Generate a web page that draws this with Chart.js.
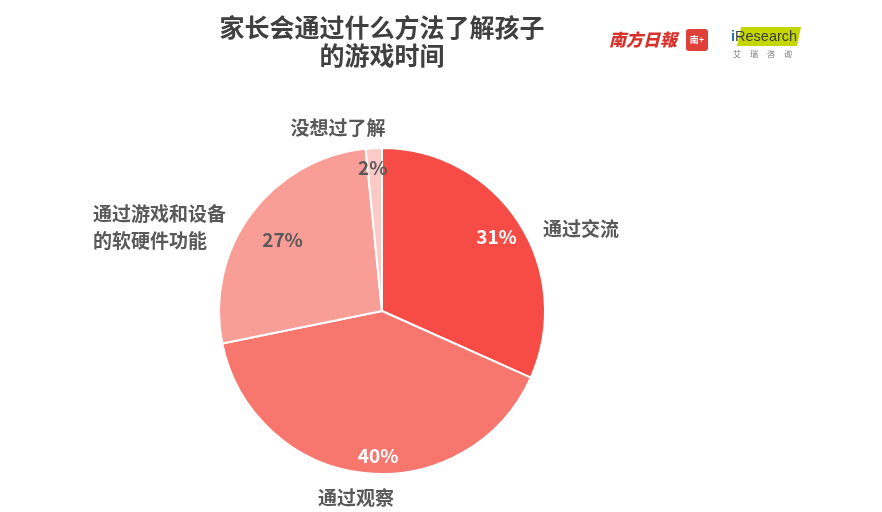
<!DOCTYPE html>
<html>
<head>
<meta charset="utf-8">
<script src="https://cdn.jsdelivr.net/npm/chart.js@4.4.0/dist/chart.umd.min.js"></script>
<style>
  html, body { margin:0; padding:0; background:#fff; }
  body { width:882px; height:512px; position:relative; overflow:hidden; font-family:"Noto Sans CJK SC","Noto Sans",sans-serif; }
  #wrap { position:absolute; left:0; top:0; width:882px; height:512px; }
  #title { position:absolute; left:182px; top:12px; width:400px; text-align:center; font-size:25px; font-weight:bold; color:#404040; line-height:28px; }
  .nfrb { position:absolute; left:609px; top:26px; font-family:"Noto Sans CJK SC",serif; font-weight:900; font-style:italic; color:#d8302a; font-size:17px; letter-spacing:0px; }
  .nfbox { position:absolute; left:686px; top:29px; width:22px; height:22px; background:#e0403a; border-radius:3px; color:#fff; font-size:9px; font-weight:bold; text-align:center; line-height:22px; }
  .ir { position:absolute; left:731px; top:26px; width:68px; height:21px; }
  .ir .bg { position:absolute; left:8px; top:1px; width:60px; height:19px; background:#c3d600; transform:skewX(-12deg); }
  .ir .tx { position:absolute; left:0; top:0; font-family:"Liberation Sans",Arial,sans-serif; font-size:14.5px; color:#3d3d3d; line-height:21px; }
  .ir .tx b { color:#2a6fb5; font-weight:bold; }
  .irc { position:absolute; left:733px; top:48px; font-size:8px; color:#777; letter-spacing:9px; }
</style>
</head>
<body>
<div id="wrap"><canvas id="pie" width="882" height="512"></canvas></div>
<div id="title">家长会通过什么方法了解孩子<br>的游戏时间</div>
<div class="nfrb">南方日報</div>
<div class="nfbox">南+</div>
<div class="ir"><div class="bg"></div><div class="tx"><b>i</b>Research</div></div>
<div class="irc">艾瑞咨询</div>
<script>
const categories = ['通过交流', '通过观察', '通过游戏和设备的软硬件功能', '没想过了解'];
const values = [31.7, 40.1, 26.6, 1.6];
const pctLabels = ['31%', '40%', '27%', '2%'];
const sliceColors = ['#f64c45', '#f7766d', '#f99d97', '#fbcac6'];

// label look / placement
const pctColors = ['#ffffff', '#ffffff', '#595959', '#595959'];
const pctRadius = [0.83, 0.885, 0.75, 0.87];
const pctNudge = [[1, -1], [12, 1], [-1, 1], [-2, -2]];
// outside category labels: offset from pie centre, alignment, lines
const outLabels = [
  { lines: ['通过交流'], dx: 161, dy: -82, align: 'left' },
  { lines: ['通过观察'], dx: -26, dy: 187, align: 'center' },
  { lines: ['通过游戏和设备', '的软硬件功能'], dx: -289, dy: -97, align: 'left' },
  { lines: ['没想过了解'], dx: -44, dy: -183, align: 'center' }
];

const labelPlugin = {
  id: 'pieLabels',
  afterDatasetsDraw(chart) {
    const ctx = chart.ctx;
    const arcs = chart.getDatasetMeta(0).data;
    ctx.save();
    ctx.textBaseline = 'middle';
    arcs.forEach((arc, i) => {
      const p = arc.getProps(['x', 'y', 'startAngle', 'endAngle', 'outerRadius'], true);
      const mid = (p.startAngle + p.endAngle) / 2;
      const r = p.outerRadius * pctRadius[i];
      ctx.font = 'bold 19px "Noto Sans CJK SC", "Noto Sans", sans-serif';
      ctx.fillStyle = pctColors[i];
      ctx.textAlign = 'center';
      ctx.fillText(pctLabels[i], p.x + Math.cos(mid) * r + pctNudge[i][0], p.y + Math.sin(mid) * r + pctNudge[i][1]);

      const o = outLabels[i];
      ctx.font = 'bold 19px "Noto Sans CJK SC", sans-serif';
      ctx.fillStyle = '#595959';
      ctx.textAlign = o.align;
      o.lines.forEach((ln, k) => {
        ctx.fillText(ln, p.x + o.dx, p.y + o.dy + k * 27);
      });
    });
    ctx.restore();
  }
};

new Chart(document.getElementById('pie'), {
  type: 'pie',
  data: {
    labels: categories,
    datasets: [{
      data: values,
      backgroundColor: sliceColors,
      borderColor: '#ffffff',
      borderWidth: 2
    }]
  },
  options: {
    responsive: false,
    animation: false,
    layout: { padding: { left: 100, right: 218, top: 147, bottom: 37 } },
    plugins: { legend: { display: false }, tooltip: { enabled: false }, title: { display: false } }
  },
  plugins: [labelPlugin]
});
</script>
</body>
</html>
